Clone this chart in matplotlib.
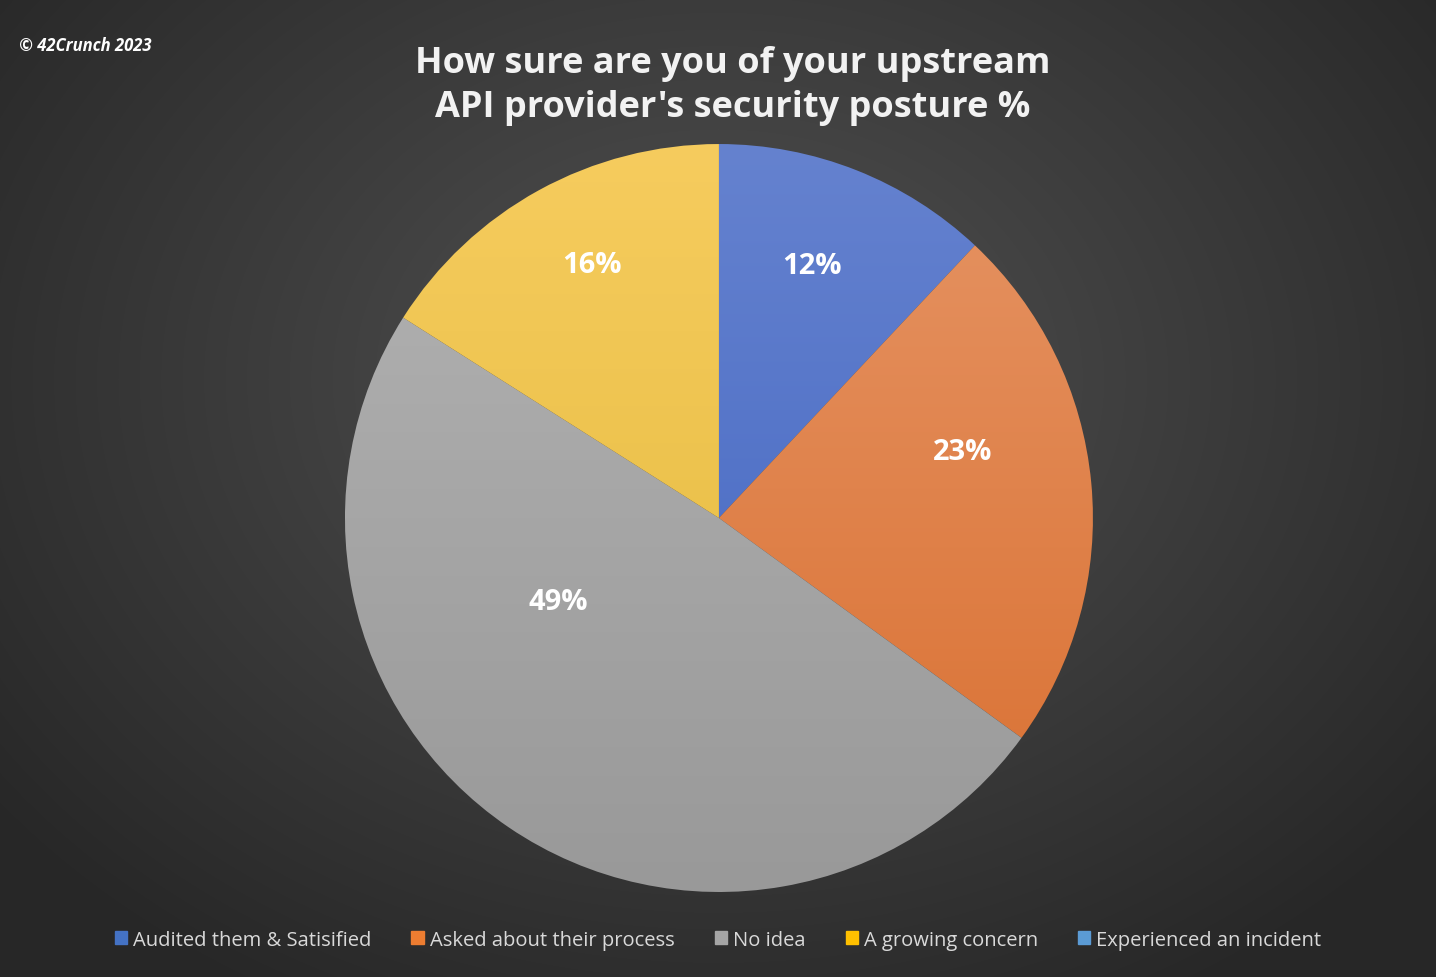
import matplotlib
matplotlib.use("Agg")
import matplotlib.pyplot as plt
import numpy as np
from matplotlib.patches import Rectangle

categories = ["Audited them & Satisified", "Asked about their process", "No idea",
              "A growing concern", "Experienced an incident"]
values = [12, 23, 49, 16, 0]
top_colors = ["#6582cf", "#e69464", "#b3b3b3", "#f6cc5e", "#5b9bd5"]
bot_colors = ["#3f63c0", "#d96f30", "#999999", "#e2b83a", "#5b9bd5"]
legend_colors = ["#4472c4", "#ed7d31", "#a5a5a5", "#ffc000", "#5b9bd5"]
# label anchor positions (Excel "best fit"), in pie radius units
label_pos = [(0.249, 0.674), (0.652, 0.179), (-0.430, -0.222), (-0.340, 0.679)]

plt.rcParams['font.family'] = ['Open Sans', 'DejaVu Sans']
fig = plt.figure(figsize=(14.36, 9.78), dpi=100)

bg = fig.add_axes([0, 0, 1, 1])
yy, xx = np.mgrid[0:978, 0:1436]
r = np.sqrt(((xx - 718) / 900) ** 2 + ((yy - 380) / 700) ** 2)
r = np.clip(r, 0, 1)
c1 = np.array([0x52, 0x52, 0x52]) / 255
c2 = np.array([0x28, 0x28, 0x28]) / 255
img = c1[None, None, :] * (1 - r[..., None]) + c2[None, None, :] * r[..., None]
bg.imshow(img, aspect='auto', extent=[0, 1, 0, 1])
bg.set_axis_off()

ax = fig.add_axes([0.2402, 0.0869, 0.5209, 0.7648])
wedges, texts = ax.pie(values, startangle=90, counterclock=False,
                       colors=legend_colors, radius=1.0,
                       wedgeprops=dict(linewidth=0))
for w, ct, cb in zip(wedges, top_colors, bot_colors):
    w.set_facecolor('none')
    grad = np.linspace(0, 1, 256)[:, None]
    a = np.array(matplotlib.colors.to_rgb(ct)); b = np.array(matplotlib.colors.to_rgb(cb))
    g = a[None, None, :] * (1 - grad[..., None]) + b[None, None, :] * grad[..., None]
    g = np.repeat(g, 2, axis=1)
    im = ax.imshow(g, extent=[-1, 1, -1, 1], aspect='auto', zorder=1)
    im.set_clip_path(w)
for v, (lx, ly) in zip(values, label_pos):
    ax.text(lx, ly, f"{v}%", ha='center', va='center', color='white',
            fontsize=21, fontweight='bold', zorder=5)
ax.set_xlim(-1, 1); ax.set_ylim(-1, 1)
ax.set_aspect('equal')
ax.set_axis_off()

fig.text(0.5105, 0.912, "How sure are you of your upstream\nAPI provider's security posture %",
         ha='center', va='center', color='#f2f2f2', fontsize=26, fontweight='bold',
         linespacing=1.3)
fig.text(0.013, 0.953, "© 42Crunch 2023", color='white', fontsize=12, fontweight='bold',
         fontstyle='italic', va='center')

handles = [Rectangle((0, 0), 1, 1, color=c) for c in legend_colors]
fig.legend(handles, categories, loc='center', bbox_to_anchor=(0.5, 0.038), ncol=5,
           frameon=False, fontsize=14.5, labelcolor='#d9d9d9', handlelength=0.6,
           handleheight=0.6, handletextpad=0.3, columnspacing=2.0)

fig.savefig("out.png", dpi=100)
